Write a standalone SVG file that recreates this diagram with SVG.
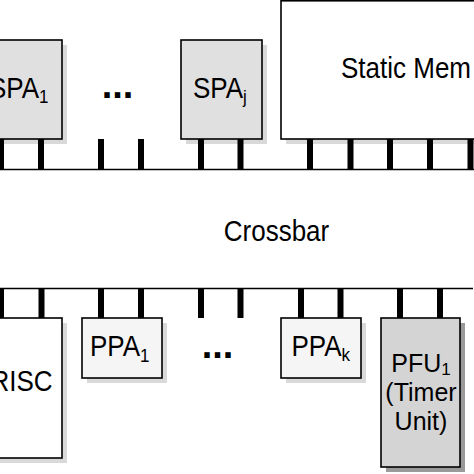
<svg xmlns="http://www.w3.org/2000/svg" width="474" height="474" viewBox="0 0 474 474">
<style>
.box{stroke:#000;stroke-width:1.6}
.sh{fill:#d9d9d9}
.t{font-family:"Liberation Sans",Arial,sans-serif;font-size:26px;fill:#000}
.pf{font-family:"Liberation Sans",Arial,sans-serif;font-size:25px;fill:#000}
.sub{font-size:17px}
.dots{font-family:"Liberation Sans",Arial,sans-serif;font-size:38px;font-weight:bold;fill:#000}
.tick{fill:#000}
.bus{stroke:#000;stroke-width:1.6;fill:none}
</style>
<rect width="474" height="474" fill="#fff"/>
<g id="SPA1">
<rect class="sh" x="-14" y="45" width="81" height="99"/>
<rect class="box" x="-19" y="40" width="81" height="99" fill="#e0e0e0"/>
<text class="t" transform="translate(-11,97.5) scale(1,1.1)">SPA<tspan class="sub" dy="5">1</tspan></text>
</g>
<g id="dots-top"><text class="dots" x="117.5" y="98" text-anchor="middle">...</text></g>
<g id="SPAj">
<rect class="sh" x="186" y="45" width="81" height="99"/>
<rect class="box" x="181" y="40" width="81" height="99" fill="#e0e0e0"/>
<text class="t" transform="translate(193,97.5) scale(1,1.1)">SPA<tspan class="sub" dy="5">j</tspan></text>
</g>
<g id="StaticMem">
<rect class="sh" x="286" y="5" width="200" height="139"/>
<rect class="box" x="281" y="0.8" width="200" height="138.2" fill="#fff"/>
<text class="t" transform="translate(341,78.3) scale(1,1.1)">Static Mem</text>
</g>
<g id="Crossbar"><text class="t" text-anchor="middle" transform="translate(276.5,241) scale(1,1.1)">Crossbar</text></g>
<g id="RISC">
<rect class="sh" x="-15" y="323" width="82" height="140"/>
<rect class="box" x="-20" y="318" width="82" height="140" fill="#fff"/>
<text class="t" text-anchor="end" transform="translate(52.5,391) scale(1,1.1)">RISC</text>
</g>
<g id="PPA1">
<rect class="sh" x="87" y="323" width="80" height="60"/>
<rect class="box" x="82" y="318" width="80" height="60" fill="#f5f5f5"/>
<text class="t" transform="translate(90,356) scale(1,1.1)">PPA<tspan class="sub" dy="5">1</tspan></text>
</g>
<g id="dots-bottom"><text class="dots" x="217.5" y="357.5" text-anchor="middle">...</text></g>
<g id="PPAk">
<rect class="sh" x="286" y="323" width="80" height="60"/>
<rect class="box" x="281" y="318" width="80" height="60" fill="#f5f5f5"/>
<text class="t" transform="translate(291.5,355.5) scale(1,1.1)">PPA<tspan class="sub" dy="5">k</tspan></text>
</g>
<g id="PFU1">
<rect x="386" y="323" width="79" height="149" fill="#9a9a9a"/>
<rect class="box" x="381" y="318" width="79" height="149" fill="#d4d4d4"/>
<text class="pf" text-anchor="middle" x="421" y="372">PFU<tspan class="sub" dy="3">1</tspan></text>
<text class="pf" text-anchor="middle" x="421" y="401">(Timer</text>
<text class="pf" text-anchor="middle" x="421" y="430">Unit)</text>
</g>
<g id="connectors">
<line class="bus" x1="0" y1="169.5" x2="474" y2="169.5"/>
<line class="bus" x1="0" y1="288.5" x2="473" y2="288.5"/>
<g class="tick">
<rect x="-2" y="139" width="6" height="31"/>
<rect x="38" y="139" width="6" height="31"/>
<rect x="98" y="139" width="6" height="31"/>
<rect x="138" y="139" width="6" height="31"/>
<rect x="198" y="139" width="6" height="31"/>
<rect x="237.5" y="139" width="6" height="31"/>
<rect x="307" y="139" width="6" height="31"/>
<rect x="347.5" y="139" width="6" height="31"/>
<rect x="387" y="139" width="6" height="31"/>
<rect x="427" y="139" width="6" height="31"/>
<rect x="467.5" y="139" width="6" height="31"/>
<rect x="-2" y="288" width="6" height="30"/>
<rect x="38.5" y="288" width="6" height="30"/>
<rect x="98" y="288" width="6" height="30"/>
<rect x="138" y="288" width="6" height="30"/>
<rect x="198" y="288" width="6" height="30"/>
<rect x="237.5" y="288" width="6" height="30"/>
<rect x="298" y="288" width="6" height="30"/>
<rect x="337.5" y="288" width="6" height="30"/>
<rect x="397" y="288" width="6" height="30"/>
<rect x="437" y="288" width="6" height="30"/>
</g>
</g>
</svg>
